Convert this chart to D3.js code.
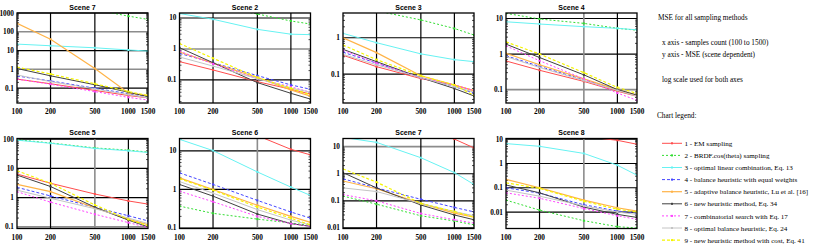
<!DOCTYPE html>
<html><head><meta charset="utf-8">
<script src="https://cdn.jsdelivr.net/npm/d3@7"></script>
<style>
html,body{margin:0;padding:0;background:#fff;}
svg{display:block;}
</style></head>
<body>
<svg id="chart" width="814" height="248"></svg>
<script>
// ---------------- DATA ----------------
const samples = [100, 200, 500, 1000, 1500];
const xTickLabels = ["100", "200", "500", "1000", "1500"];
const sceneTitles = ["Scene 7", "Scene 2", "Scene 3", "Scene 4", "Scene 5", "Scene 6", "Scene 7", "Scene 8"];
const methodNames = [
  "1 - EM sampling",
  "2 - BRDF.cos(theta) sampling",
  "3 - optimal linear combination, Eq. 13",
  "4 - balance heuristic with equal weights",
  "5 - adaptive balance heuristic, Lu et al. [16]",
  "6 - new heuristic method, Eq. 34",
  "7 - combinatorial search with Eq. 17",
  "8 - optimal balance heuristic, Eq. 24",
  "9 - new heuristic method with cost, Eq. 41"
];
const yDomains = [
  [0.016, 1000], [0.018, 14.5], [0.016, 4.8], [0.042, 14.3],
  [0.088, 105], [0.097, 21], [0.0095, 20], [0.0021, 10.7]
];
const yTickLabels = [
  ["1000", "100", "10", "1", "0.1"],
  ["10", "1", "0.1"],
  ["1", "0.1"],
  ["10", "1", "0.1"],
  ["100", "10", "1", "0.1"],
  ["10", "1", "0.1"],
  ["10", "1", "0.1", "0.01"],
  ["10", "1", "0.1", "0.01"]
];
// order of rows: methods 1..9
const mseScene7a = [
  [0.3, 0.17, 0.075, 0.04, 0.03],
  [5000, 3000, 1500, 680, 457],
  [22, 18, 14, 10.7, 9.4],
  [0.44, 0.24, 0.098, 0.05, 0.035],
  [280, 40, 1.1, 0.055, 0.04],
  [1.1, 0.45, 0.15, 0.06, 0.035],
  [0.3, 0.16, 0.065, 0.032, 0.023],
  [0.5, 0.22, 0.09, 0.045, 0.03],
  [1.3, 0.56, 0.17, 0.065, 0.04]
];
const mseScene2 = [
  [0.39, 0.21, 0.088, 0.05, 0.035],
  [40, 25, 13.5, 8, 6.4],
  [14, 9.1, 4.3, 3.0, 2.9],
  [0.72, 0.36, 0.138, 0.069, 0.05],
  [0.8, 0.35, 0.12, 0.048, 0.03],
  [1.1, 0.36, 0.082, 0.037, 0.024],
  [0.85, 0.33, 0.11, 0.06, 0.04],
  [0.55, 0.28, 0.11, 0.055, 0.04],
  [1.5, 0.5, 0.12, 0.054, 0.033]
];
const mseScene3 = [
  [0.33, 0.16, 0.075, 0.05, 0.035],
  [8, 5.5, 3.1, 1.8, 1.19],
  [1.32, 0.73, 0.36, 0.25, 0.22],
  [0.4, 0.2, 0.08, 0.045, 0.03],
  [1.0, 0.39, 0.09, 0.05, 0.035],
  [0.48, 0.22, 0.08, 0.04, 0.025],
  [0.45, 0.2, 0.08, 0.05, 0.035],
  [0.35, 0.18, 0.08, 0.045, 0.032],
  [0.63, 0.25, 0.09, 0.05, 0.026]
];
const mseScene4 = [
  [0.64, 0.35, 0.17, 0.09, 0.065],
  [14, 9.7, 7.3, 5.3, 4.7],
  [8.1, 7.0, 5.9, 5.3, 4.8],
  [0.9, 0.45, 0.19, 0.1, 0.07],
  [1.05, 0.5, 0.2, 0.1, 0.07],
  [1.9, 0.8, 0.26, 0.1, 0.07],
  [1.7, 0.65, 0.2, 0.08, 0.05],
  [0.85, 0.42, 0.18, 0.095, 0.065],
  [2.2, 1.0, 0.3, 0.115, 0.078]
];
const mseScene5 = [
  [6.4, 3.1, 1.33, 0.77, 0.6],
  [95, 74, 50, 42, 36],
  [92, 72, 48, 40, 35],
  [2.25, 1.14, 0.47, 0.24, 0.16],
  [2.85, 1.6, 0.45, 0.18, 0.12],
  [5.9, 2.4, 0.47, 0.17, 0.1],
  [1.6, 0.7, 0.27, 0.14, 0.095],
  [1.8, 0.95, 0.42, 0.2, 0.13],
  [8.3, 3.1, 0.56, 0.18, 0.11]
];
const mseScene6 = [
  [100, 60, 25, 11, 7.9],
  [0.37, 0.24, 0.17, 0.135, 0.115],
  [20, 10.2, 2.85, 1.15, 0.7],
  [2.7, 1.35, 0.52, 0.26, 0.18],
  [2.0, 1.0, 0.39, 0.2, 0.14],
  [1.35, 0.67, 0.23, 0.13, 0.11],
  [0.9, 0.48, 0.2, 0.13, 0.11],
  [1.6, 0.8, 0.3, 0.16, 0.12],
  [1.9, 0.96, 0.35, 0.18, 0.12]
];
const mseScene7b = [
  [200, 100, 45, 19, 9],
  [0.15, 0.075, 0.028, 0.018, 0.013],
  [22, 14.4, 3.9, 1.1, 0.4],
  [0.65, 0.3, 0.114, 0.057, 0.039],
  [0.54, 0.28, 0.08, 0.035, 0.025],
  [1.1, 0.3, 0.07, 0.03, 0.02],
  [0.17, 0.1, 0.034, 0.02, 0.015],
  [0.3, 0.22, 0.08, 0.04, 0.028],
  [1.5, 0.49, 0.08, 0.04, 0.025]
];
const mseScene8 = [
  [40, 25, 13, 9, 6.2],
  [0.031, 0.012, 0.0044, 0.0025, 0.0022],
  [6.6, 5.1, 2.6, 0.85, 0.33],
  [0.1, 0.06, 0.02, 0.011, 0.009],
  [0.22, 0.1, 0.031, 0.015, 0.011],
  [0.13, 0.062, 0.016, 0.008, 0.006],
  [0.062, 0.037, 0.014, 0.007, 0.005],
  [0.08, 0.045, 0.018, 0.01, 0.008],
  [0.16, 0.095, 0.028, 0.013, 0.01]
];
const allScenes = [mseScene7a, mseScene2, mseScene3, mseScene4, mseScene5, mseScene6, mseScene7b, mseScene8];
const notes = ["MSE for all sampling methods", "x axis - samples count (100 to 1500)", "y axis - MSE (scene dependent)", "log scale used for both axes", "Chart legend:"];

// ---------------- STYLE ----------------
const colors = ["#ff4d4d", "#33dd33", "#66f2f2", "#4646ff", "#ffb347", "#404040", "#ff44ff", "#c4c4c4", "#f5f500"];
const dashes = [null, "2,2", null, "3,2", null, null, "2,2", null, "3,2"];
const widths = [1, 1, 1, 1, 1.2, 1, 1, 1, 1.2];
const grayY = [[100, 1], [1], [], [0.1], [0.1], [], [10], []];
const grayX = [[], [], [], [500], [500], [500], [], [500]];

const svg = d3.select("#chart");
const lefts = [17, 179.5, 343, 506];
const tops = [13, 138.5];
const W = 131, H = 90;
const serif = "'Liberation Serif','Times New Roman',serif";
const sans = "'Liberation Sans',Arial,sans-serif";

allScenes.forEach((data, i) => {
  const L = lefts[i % 4], T = tops[Math.floor(i / 4)];
  const x = d3.scaleLog().domain([100, 1500]).range([L, L + W]);
  const y = d3.scaleLog().domain(yDomains[i]).range([T + H, T]);
  const g = svg.append("g");
  const cid = "clip" + i;
  svg.append("clipPath").attr("id", cid).append("rect")
    .attr("x", L).attr("y", T).attr("width", W).attr("height", H);

  // minor ticks left/right
  const [d0, d1] = yDomains[i];
  const minors = [];
  for (let e = Math.floor(Math.log10(d0)); e <= Math.ceil(Math.log10(d1)); e++) {
    for (let k = 2; k <= 9; k++) { const v = k * Math.pow(10, e); if (v > d0 && v < d1) minors.push(v); }
  }
  g.selectAll(".mr").data(minors).join("line")
    .attr("x1", L + W - 2).attr("x2", L + W).attr("y1", d => y(d)).attr("y2", d => y(d))
    .attr("stroke", "#000").attr("stroke-width", 0.7);
  g.selectAll(".ml").data(minors).join("line")
    .attr("x1", L).attr("x2", L + 2).attr("y1", d => y(d)).attr("y2", d => y(d))
    .attr("stroke", "#000").attr("stroke-width", 0.7);

  // gridlines
  const yVals = yTickLabels[i].map(Number);
  g.selectAll(".gy").data(yVals).join("line")
    .attr("x1", L).attr("x2", L + W).attr("y1", d => y(d)).attr("y2", d => y(d))
    .attr("stroke", d => grayY[i].includes(d) ? "#8c8c8c" : "#000")
    .attr("stroke-width", d => grayY[i].includes(d) ? 1.6 : 1.2);
  g.selectAll(".gx").data(samples.slice(1, 4)).join("line")
    .attr("y1", T).attr("y2", T + H).attr("x1", d => x(d)).attr("x2", d => x(d))
    .attr("stroke", d => grayX[i].includes(d) ? "#8c8c8c" : "#000")
    .attr("stroke-width", d => grayX[i].includes(d) ? 1.6 : 1.2);

  // series
  const line = d3.line().x((d, j) => x(samples[j])).y(d => y(d));
  const sg = g.append("g").attr("clip-path", `url(#${cid})`);
  data.forEach((vals, m) => {
    sg.append("path").attr("d", line(vals)).attr("fill", "none")
      .attr("stroke", colors[m]).attr("stroke-width", widths[m])
      .attr("stroke-dasharray", dashes[m]);
    sg.selectAll(null).data(vals).join("rect")
      .attr("x", (d, j) => x(samples[j]) - 1).attr("y", d => y(d) - 1)
      .attr("width", 2).attr("height", 2).attr("fill", colors[m]);
  });

  // frame
  g.append("rect").attr("x", L).attr("y", T).attr("width", W).attr("height", H)
    .attr("fill", "none").attr("stroke", "#000").attr("stroke-width", 1.3);

  // title
  g.append("text").attr("x", L + W / 2).attr("y", T - 3.5).attr("text-anchor", "middle")
    .attr("font-family", sans).attr("font-weight", "bold").attr("font-size", 7)
    .text(sceneTitles[i]);

  // y tick labels
  g.selectAll(".yl").data(yTickLabels[i]).join("text")
    .attr("x", L - 3).attr("y", d => y(+d) + 2.5).attr("text-anchor", "end")
    .attr("font-family", serif).attr("font-weight", "bold").attr("font-size", 7.3)
    .text(d => d);
  // x tick labels
  g.selectAll(".xl").data(xTickLabels).join("text")
    .attr("x", (d, j) => x(samples[j])).attr("y", T + H + 11).attr("text-anchor", "middle")
    .attr("font-family", serif).attr("font-weight", "bold").attr("font-size", 7.3)
    .text(d => d);
});

// ---------------- NOTES & LEGEND ----------------
const notePos = [[658, 20], [662, 45], [662, 56.5], [662, 81.5], [657, 118]];
notes.forEach((t, k) => {
  svg.append("text").attr("x", notePos[k][0]).attr("y", notePos[k][1])
    .attr("font-family", serif).attr("font-size", 7.3).text(t);
});
const leg = svg.append("g");
methodNames.forEach((name, m) => {
  const yy = 143.3 + m * 12.1;
  leg.append("line").attr("x1", 662).attr("x2", 682).attr("y1", yy).attr("y2", yy)
    .attr("stroke", colors[m]).attr("stroke-width", widths[m]).attr("stroke-dasharray", dashes[m]);
  leg.append("rect").attr("x", 671).attr("y", yy - 1).attr("width", 2).attr("height", 2).attr("fill", colors[m]);
  leg.append("text").attr("x", 684.5).attr("y", yy + 2.6)
    .attr("font-family", serif).attr("font-size", 7.1).text(name);
});
</script>
</body></html>
